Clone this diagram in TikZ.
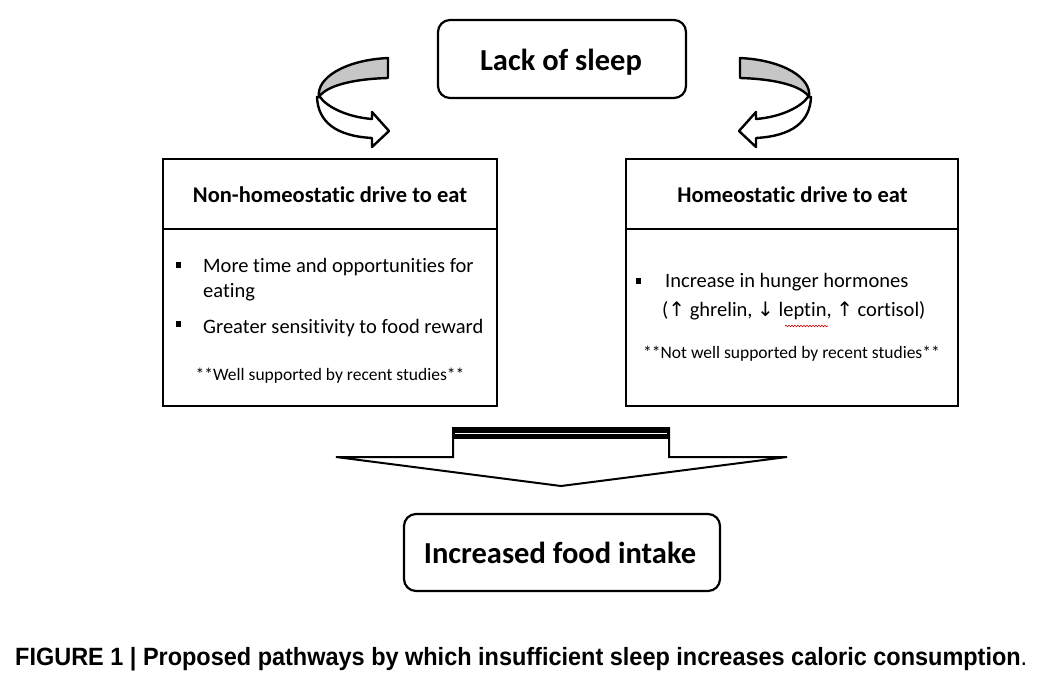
\documentclass[tikz,border=0pt]{standalone}
\usepackage{fontspec}
\usepackage{graphicx}
\setmainfont{Carlito}[Ligatures={NoCommon,NoRare,NoContextual}]
\newfontfamily\capfont{Liberation Sans}
\newfontfamily\arrowfont{DejaVu Sans}
\usetikzlibrary{decorations.pathmorphing}
\tikzset{
  box/.style={draw=black, line width=2.2pt, inner sep=0pt, fill=white},
  rbox/.style={box, rounded corners=12pt},
  bigtxt/.style={font=\fontsize{30.5}{34}\selectfont\bfseries, inner sep=0pt, anchor=base},
  headtxt/.style={font=\fontsize{22.5}{26}\selectfont\bfseries, inner sep=0pt, anchor=base},
  bodytxt/.style={font=\fontsize{20.5}{24}\selectfont, inner sep=0pt, anchor=base west},
  notetxt/.style={font=\fontsize{17.5}{20}\selectfont, inner sep=0pt, anchor=base},
  bul/.style={fill=black, minimum width=5pt, minimum height=6pt, inner sep=0pt},
  ribbon/.style={draw=black, line width=2.4pt, line join=round},
}
\newcommand{\ua}{{\arrowfont\fontsize{20}{24}\selectfont\char"2191}}
\newcommand{\da}{{\arrowfont\fontsize{20}{24}\selectfont\char"2193}}
\begin{document}
\begin{tikzpicture}[x=1pt,y=-1pt]
\useasboundingbox (0,0) rectangle (1046,683);
\fill[white] (0,0) rectangle (1046,683);

% top box
\node[rbox, minimum width=248pt, minimum height=78pt] (sleep) at (562,59) {};
\node[bigtxt] (sleeptxt) at (561,70) {Lack of sleep};

% curved arrows
\begin{scope}
\filldraw[ribbon, fill=white] (320,97) .. controls (327,107) and (347,117) .. (372,119)
  -- (372,112) -- (389,131) -- (372,147) -- (372,138)
  .. controls (336,136) and (318,122) .. (317,97) -- cycle;
\filldraw[ribbon, fill=gray!45] (388,58) -- (388,78) .. controls (352,79) and (326,86) .. (319,97)
  .. controls (316,78) and (345,60) .. (388,58) -- cycle;
\end{scope}
\begin{scope}[xshift=1128pt, xscale=-1]
\filldraw[ribbon, fill=white] (320,97) .. controls (327,107) and (347,117) .. (372,119)
  -- (372,112) -- (389,131) -- (372,147) -- (372,138)
  .. controls (336,136) and (318,122) .. (317,97) -- cycle;
\filldraw[ribbon, fill=gray!45] (388,58) -- (388,78) .. controls (352,79) and (326,86) .. (319,97)
  .. controls (316,78) and (345,60) .. (388,58) -- cycle;
\end{scope}

% left box
\node[box, minimum width=334pt, minimum height=247pt] (left) at (330,282.5) {};
\coordinate (ldivl) at (163,229);
\coordinate (ldivr) at (497,229);
\draw[line width=2.2pt] (ldivl) -- (ldivr);
\node[headtxt] (lhead) at (330,202) {Non-homeostatic drive to eat};
\node[bul] (lb1) at (178,265) {};
\node[bodytxt] (l1) at (203,272) {More time and opportunities for};
\node[bodytxt] (l2) at (203,297) {eating};
\node[bul] (lb2) at (178,324) {};
\node[bodytxt] (l3) at (203,333) {Greater sensitivity to food reward};
\node[notetxt] (lnote) at (330,380) {**Well supported by recent studies**};

% right box
\node[box, minimum width=332pt, minimum height=247pt] (right) at (792,282.5) {};
\coordinate (rdivl) at (626,229);
\coordinate (rdivr) at (958,229);
\draw[line width=2.2pt] (rdivl) -- (rdivr);
\node[headtxt] (rhead) at (792.5,202) {Homeostatic drive to eat};
\node[bul] (rb1) at (638,281) {};
\node[bodytxt] (r1) at (665,287) {Increase in hunger hormones};
\node[bodytxt] (r2) at (662,316) {(\ua\ ghrelin, \da\ leptin, \ua\ cortisol)};
\coordinate (sq1) at (785,326);
\coordinate (sq2) at (828,326);
\draw[red!80!black, line width=0.6pt, decorate, decoration={snake, amplitude=0.8pt, segment length=3pt}] (sq1) -- (sq2);
\node[notetxt] (rnote) at (791.5,358) {**Not well supported by recent studies**};

% big down arrow
\filldraw[draw=black, fill=white, line width=2pt, line join=miter]
  (453,428) -- (669,428) -- (669,457) -- (787,457) -- (561,486) -- (336,457) -- (453,457) -- cycle;
\fill[black] (453,427) rectangle (669,439);
\draw[white, line width=0.8pt] (455,433.5) -- (667,433.5);

% bottom box
\node[rbox, minimum width=316pt, minimum height=77pt] (food) at (562,552.5) {};
\node[bigtxt] (foodtxt) at (560,563) {Increased food intake};

% caption
\node[inner sep=0pt, anchor=base west] (cap) at (15,665)
  {\resizebox{1012pt}{\height}{\capfont\fontsize{25}{28}\selectfont\bfseries FIGURE 1 | Proposed pathways by which insufficient sleep increases caloric consumption\mdseries.}};
\end{tikzpicture}
\end{document}
